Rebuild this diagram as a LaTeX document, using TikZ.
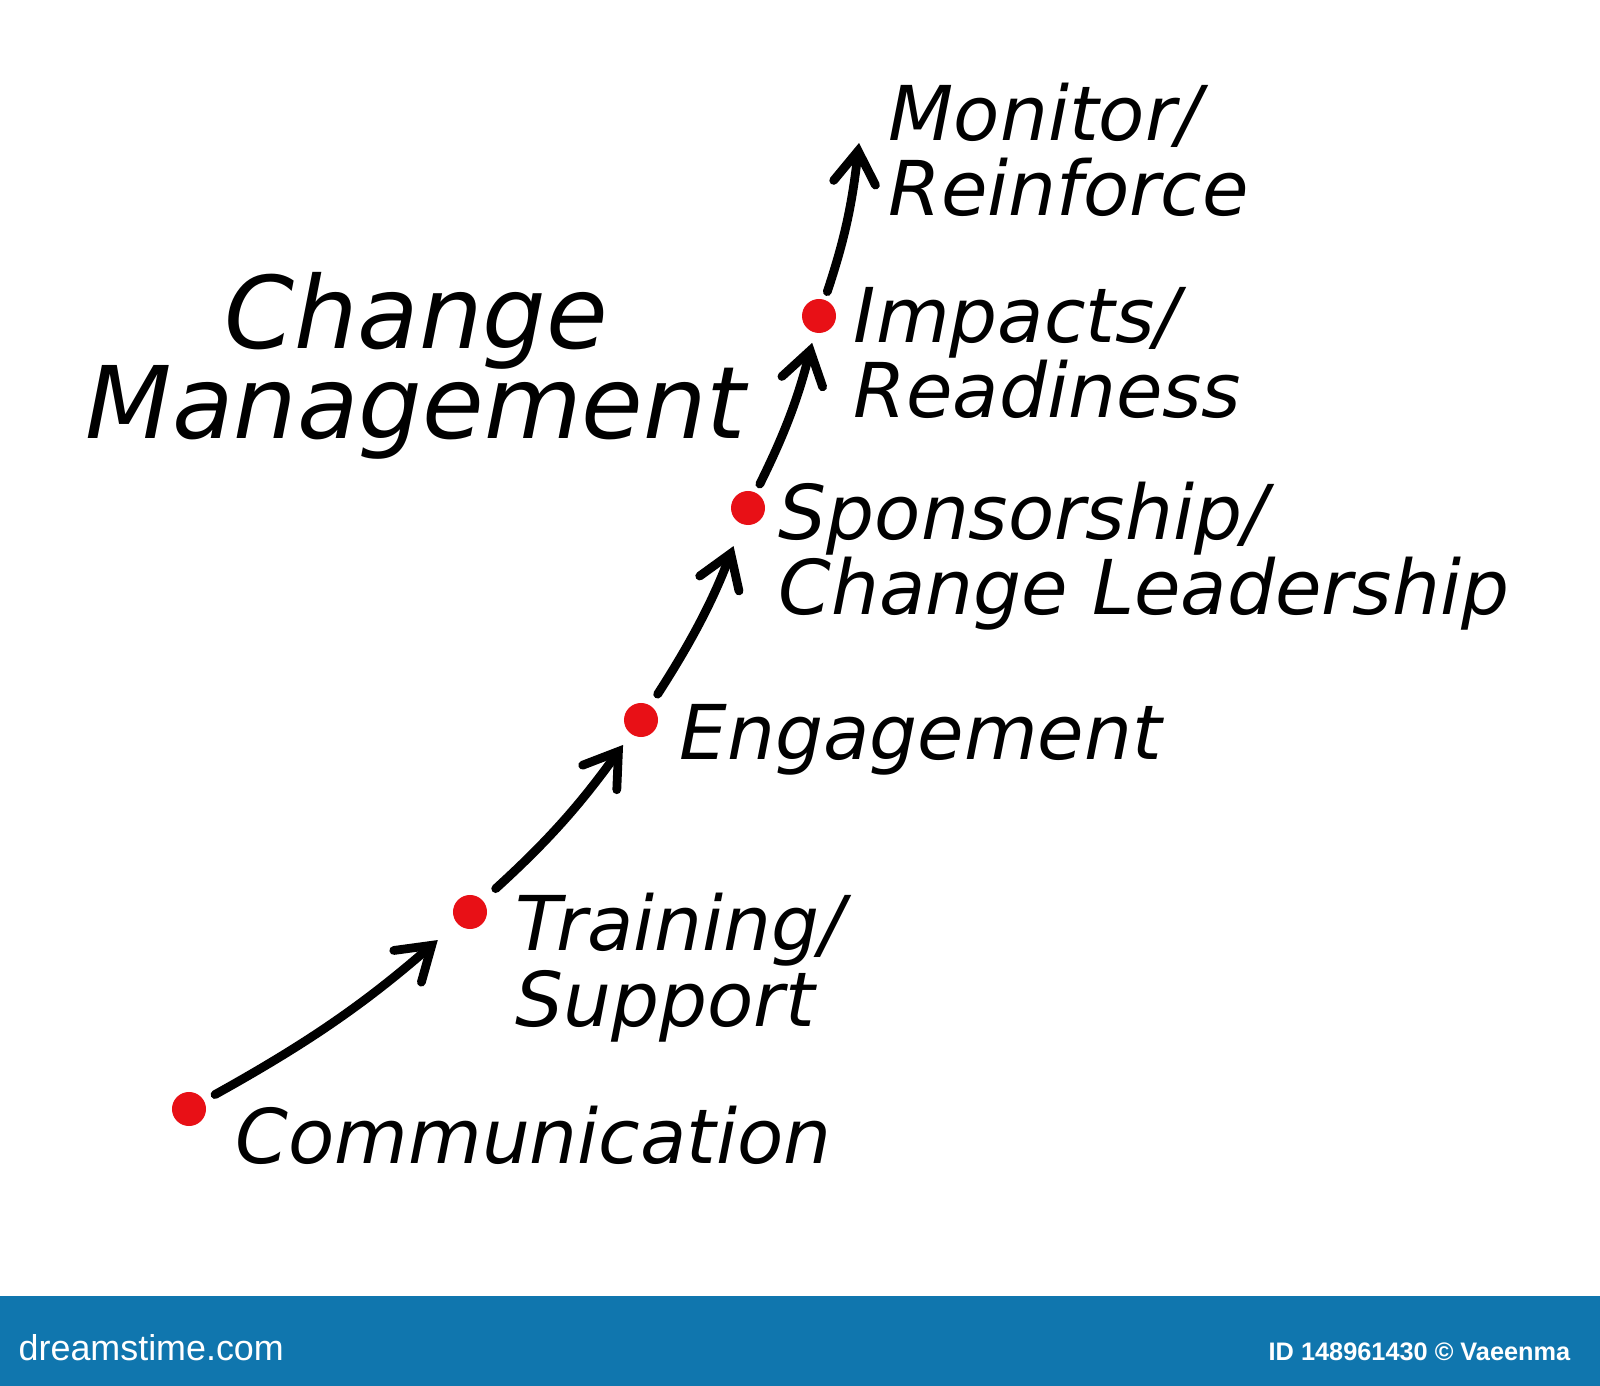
\documentclass[tikz,border=0pt]{standalone}
\usepackage{fontspec}
\setmainfont{DejaVu Sans}
\setsansfont{Liberation Sans}
\usepackage{tikz}
\usetikzlibrary{arrows.meta,positioning}
\usepackage{xcolor}
\definecolor{rojopunto}{RGB}{232,16,22}
\definecolor{azulbarra}{RGB}{16,118,174}

\begin{document}
\begin{tikzpicture}[x=0.01cm,y=-0.01cm,
        punto/.style={circle, fill=rojopunto, inner sep=0pt, minimum size=0.34cm},
        flecha/.style={line width=2.5pt, line cap=round, line join=round,
            -{Straight Barb[length=0.32cm, width=0.42cm, line cap=round]}},
        etiqueta/.style={anchor=base west, align=left, inner sep=0pt,
            font=\fontsize{21.5}{21.5}\selectfont\itshape}]

    \useasboundingbox (0,0) rectangle (1600,1386);

    % Puntos
    \foreach \n/\x/\y in {comm/189/1109, train/470/912, engage/641/720,
                          sponsor/748/508, impact/819/316}
        \node[punto] (\n) at (\x,\y) {};
    \coordinate (top) at (859,143);

    % Flechas entre los puntos
    \foreach \a/\b/\s/\e in {comm/train/0.12cm/0.25cm, train/engage/0.17cm/0.13cm,
                             engage/sponsor/0.13cm/0.23cm, sponsor/impact/0.09cm/0.10cm,
                             impact/top/0.08cm/0cm}
        \draw[flecha, shorten <=\s, shorten >=\e] (\a) to[bend right=6] (\b);

    % Etiquetas (base = ultima linea)
    \node[etiqueta] (lcomm) at (235,1163) {Communication};
    \node[etiqueta] (ltrain) at (515,1026) {Training/\\Support};
    \node[etiqueta] (lengage) at (679,760) {Engagement};
    \node[etiqueta] (lsponsor) at (778,615) {Sponsorship/\\Change Leadership};
    \node[etiqueta] (limpact) at (853,418) {Impacts/\\Readiness};
    \node[etiqueta] (ltop) at (888,216) {Monitor/\\Reinforce};

    % Titulo
    \node[anchor=base, align=center, inner sep=0pt,
          font=\fontsize{28.5}{26.5}\selectfont\itshape] (titulo) at (416,439)
          {Change\\[-2pt]Management};

    % Barra inferior
    \fill[azulbarra] (0,1296) rectangle (1600,1386);
    \node[anchor=base west, inner sep=0pt, text=white,
          font=\sffamily\fontsize{10.2}{11}\selectfont] (sitio) at (18,1360) {dreamstime.com};
    \node[anchor=base east, inner sep=0pt, text=white,
          font=\sffamily\bfseries\fontsize{7.2}{8}\selectfont] (id) at (1571,1360)
          {ID 148961430 © Vaeenma};

\end{tikzpicture}
\end{document}
